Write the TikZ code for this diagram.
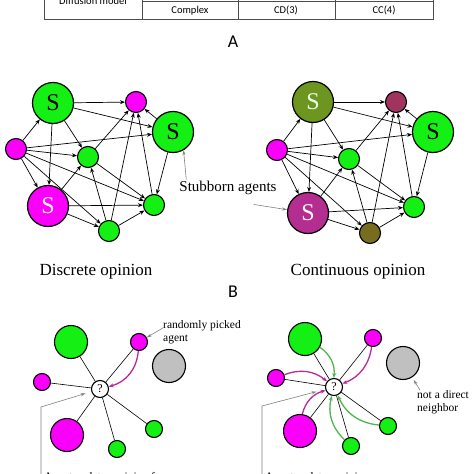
\documentclass[tikz,border=0pt]{standalone}
\usepackage{fontspec}
\setmainfont{Liberation Serif}
\newfontfamily\calibrifont{Carlito}
\usetikzlibrary{arrows.meta}
\definecolor{mygreen}{RGB}{20,240,20}
\definecolor{mymagenta}{RGB}{250,0,250}
\definecolor{mygray}{RGB}{192,192,192}
\definecolor{myolive}{RGB}{108,150,32}
\definecolor{mymaroon}{RGB}{160,52,95}
\definecolor{myplum}{RGB}{180,45,145}
\definecolor{mybrown}{RGB}{120,108,30}
\definecolor{mypurple}{RGB}{185,40,155}
\definecolor{myleaf}{RGB}{80,180,80}
\tikzset{
  bigagent/.style={circle, draw, line width=1.2pt, minimum size=41pt, inner sep=0pt, font=\fontsize{24}{24}\selectfont},
  agent/.style={circle, draw, line width=1.1pt, minimum size=21pt, inner sep=0pt},
  netarrow/.style={draw, line width=0.7pt, -{Stealth[length=5pt,width=4pt]}},
  pointer/.style={draw, gray, line width=0.6pt, -{Stealth[length=5pt,width=3pt]}},
  nbig/.style={circle, draw, line width=1.1pt, minimum size=33pt, inner sep=0pt},
  nsmall/.style={circle, draw, line width=1.1pt, minimum size=17pt, inner sep=0pt},
  focal/.style={circle, draw, line width=1.1pt, minimum size=17pt, inner sep=0pt, fill=white, font=\fontsize{12}{12}\selectfont},
  spoke/.style={draw, line width=0.6pt},
  pull/.style={draw, line width=1.3pt, -{Stealth[length=5pt,width=4pt]}, bend left=30},
  tableline/.style={draw, black!70, line width=0.8pt},
  tabletext/.style={font=\calibrifont\fontsize{10.5}{12}\selectfont, anchor=base, inner sep=0pt},
  panellabel/.style={font=\calibrifont\fontsize{18}{18}\selectfont, anchor=base, inner sep=0pt},
  opinionlabel/.style={font=\fontsize{17}{17}\selectfont, anchor=base, inner sep=0pt},
  note/.style={align=left, anchor=north west, inner sep=0pt, font=\fontsize{11.5}{13}\selectfont}
}

\begin{document}
\begin{tikzpicture}[x=1pt, y=-1pt]
\useasboundingbox (0,0) rectangle (474,474);
\clip (0,0) rectangle (474,474);

% table, cut at the top
\draw[tableline] (44,-10) -- (44,19) -- (433,19) -- (433,-10);
\draw[tableline] (142,-10) -- (142,19);
\draw[tableline] (238,-10) -- (238,19);
\draw[tableline] (335,-10) -- (335,19);
\draw[tableline] (142,1) -- (433,1);
\node[tabletext] (diffusion) at (93,4) {Diffusion model};
\node[tabletext] (complex) at (190,13.5) {Complex};
\node[tabletext] (cd) at (286,13.5) {CD(3)};
\node[tabletext] (cc) at (384,13.5) {CC(4)};
\node[panellabel] (labelA) at (233,47) {A};

% discrete opinion network
\node[bigagent, fill=mygreen] (dsa) at (53,103) {S};
\node[agent, fill=mymagenta] (dm) at (136,102) {};
\node[bigagent, fill=mygreen] (dsb) at (173,132) {S};
\node[agent, fill=mymagenta] (dl) at (16,149) {};
\node[agent, fill=mygreen] (dc) at (88,157) {};
\node[bigagent, fill=mymagenta, text=white!85!pink] (dsc) at (48,206) {S};
\node[agent, fill=mygreen] (dr) at (154,205) {};
\node[agent, fill=mygreen] (db) at (109,231) {};
\foreach \a/\b in {sa/m, sa/sb, sa/c, sa/sc, l/sa, l/sb, l/c, l/sc, l/b, l/r, c/m, c/r,
                   sb/m, sb/r, sc/c, sc/r, sc/b, b/c, b/m, b/r, r/m}
  \draw[netarrow] (d\a) -- (d\b);

% continuous opinion network
\node[bigagent, fill=myolive, text=white!90!green] (csa) at (313,102) {S};
\node[agent, fill=mymaroon] (cm) at (396,102) {};
\node[bigagent, fill=mygreen] (csb) at (433,132) {S};
\node[agent, fill=mymagenta] (cl) at (277,150) {};
\node[agent, fill=mygreen] (cc) at (349,159) {};
\node[bigagent, fill=myplum, text=white!90!pink] (csc) at (308,213) {S};
\node[agent, fill=mygreen] (cr) at (414,207) {};
\node[agent, fill=mybrown] (cb) at (370,233) {};
\foreach \a/\b in {sa/m, sa/sb, sa/c, sa/sc, l/sa, l/sb, l/c, l/sc, l/b, l/r, c/m, c/r,
                   sb/m, sb/r, sc/c, sc/r, sc/b, b/c, b/m, b/r, r/m}
  \draw[netarrow] (c\a) -- (c\b);

\node[anchor=base, inner sep=1pt, font=\fontsize{15}{15}\selectfont] (stubborn) at (228,191) {Stubborn agents};
\draw[pointer] ([xshift=8pt]stubborn.north west) -- (dsb.-60);
\draw[pointer] ([xshift=-24pt,yshift=-9pt]stubborn.south east) -- (csc);

\node[opinionlabel] (discrete) at (96,275) {Discrete opinion};
\node[opinionlabel] (continuous) at (358,275) {Continuous opinion};
\node[panellabel] (labelB) at (233,297) {B};

% picking one neighbour
\node[nbig, fill=mygreen] (pg) at (71,342) {};
\node[nsmall, fill=mymagenta] (pm) at (139,342) {};
\node[nbig, fill=mygray] (px) at (169,366) {};
\node[nsmall, fill=mymagenta] (pl) at (42,382) {};
\node[nbig, fill=mymagenta] (pbm) at (67,435) {};
\node[nsmall, fill=mygreen] (pr) at (154,429) {};
\node[nsmall, fill=mygreen] (pb) at (117,449) {};
\node[focal] (pq) at (100,389) {?};
\foreach \n in {pg, pm, pl, pbm, pr, pb}
  \draw[spoke] (pq) -- (\n);
\draw[pull, mypurple, bend left=35] (pm) to (pq);
\node[note] (picked) at (163,320) {randomly picked\\agent};
\draw[pointer] ([yshift=4pt]picked.west) -- (pm);
\node[anchor=base west, inner sep=0pt, font=\fontsize{11.5}{13}\selectfont] (ptext) at (44,480) {Agent updates opinion from};
\coordinate (pknee) at (41,407);
\draw[pointer, shorten >=6pt] (41,480) -- (pknee) -- (pq);

% averaging over all neighbours
\node[nbig, fill=mygreen] (ag) at (305,339) {};
\node[nsmall, fill=mymagenta] (am) at (373,338) {};
\node[nbig, fill=mygray] (ax) at (403,363) {};
\node[nsmall, fill=mymagenta] (al) at (276,378) {};
\node[nbig, fill=mymagenta] (abm) at (300,431) {};
\node[nsmall, fill=mygreen] (ar) at (388,426) {};
\node[nsmall, fill=mygreen] (ab) at (351,446) {};
\node[focal] (aq) at (334,387) {?};
\foreach \n in {ag, am, al, abm, ar, ab}
  \draw[spoke] (aq) -- (\n);
\draw[pull, myleaf] (ag) to (aq);
\draw[pull, mypurple] (am) to (aq);
\draw[pull, mypurple] (al) to (aq);
\draw[pull, mypurple] (abm) to (aq);
\draw[pull, myleaf] (ab) to (aq);
\draw[pull, myleaf] (ar) to (aq);
\node[note] (notdirect) at (417,390) {not a direct\\neighbor};
\draw[pointer, shorten >=3pt] ([xshift=3pt]notdirect.north west) -- (ax);
\node[anchor=base west, inner sep=0pt, font=\fontsize{11.5}{13}\selectfont] (atext) at (265,480) {Agent updates opinion as an average};
\coordinate (aknee) at (262,406);
\draw[pointer, shorten >=9pt] (262,480) -- (aknee) -- (aq);

\end{tikzpicture}
\end{document}
